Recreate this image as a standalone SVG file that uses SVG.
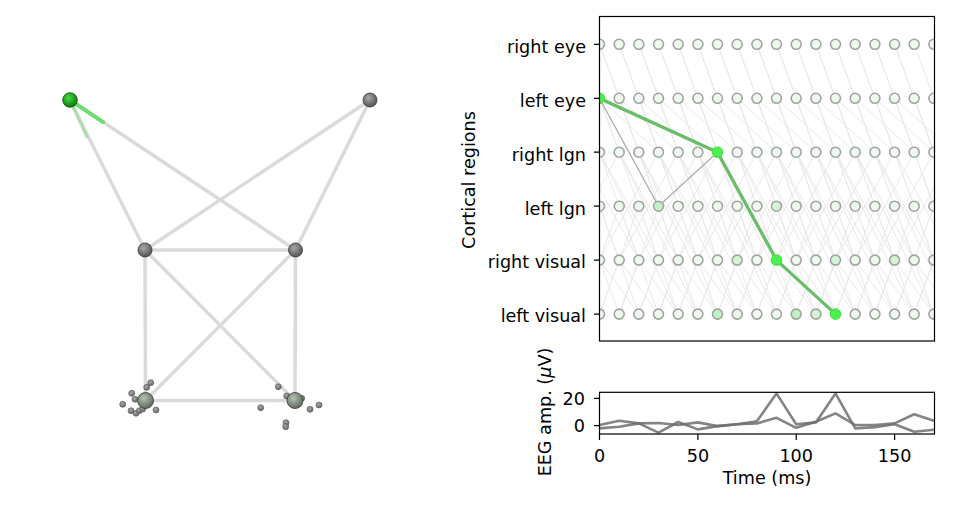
<svg xmlns="http://www.w3.org/2000/svg" xmlns:xlink="http://www.w3.org/1999/xlink" width="954" height="505" viewBox="0 0 954 505">
<style>
text{font-family:"DejaVu Sans","Liberation Sans",sans-serif;font-size:17.6px;fill:#000}
.edge{stroke:#d6d6d6;stroke-width:3.5;stroke-linecap:round;fill:none;opacity:.9}
.frame{fill:none;stroke:#000;stroke-width:1.2}
.tick{stroke:#000;stroke-width:1.2}
.nd{fill:#eefaee;stroke:#a3a3a3;stroke-width:1.6}
.lg{fill:#d2f5d2}
.mg{fill:#c2f2c2}
.hi{fill:#4cf04c;stroke:#44dd44;stroke-width:1}
.faint{fill:none;stroke:#c4c4c4;stroke-width:1;opacity:.38}
.dk{fill:none;stroke:#a9b0a9;stroke-width:1.3}
.eeg{fill:none;stroke:#6e6e6e;stroke-width:2.6;stroke-linejoin:round;opacity:.85}
.sm{fill:url(#gs);stroke:#555;stroke-width:.6}
</style>
<defs>
<radialGradient id="gg" cx=".4" cy=".35" r=".65"><stop offset="0" stop-color="#44dd44"/><stop offset="1" stop-color="#0c7a0c"/></radialGradient>
<radialGradient id="gr" cx=".4" cy=".35" r=".65"><stop offset="0" stop-color="#a8a8a8"/><stop offset="1" stop-color="#555"/></radialGradient>
<radialGradient id="gb" cx=".4" cy=".35" r=".65"><stop offset="0" stop-color="#b3c2b3"/><stop offset="1" stop-color="#5f6b5f"/></radialGradient>
<radialGradient id="gs" cx=".4" cy=".35" r=".65"><stop offset="0" stop-color="#aaa"/><stop offset="1" stop-color="#666"/></radialGradient>
<clipPath id="cpTop"><rect x="599.5" y="16.5" width="335" height="324.5"/></clipPath>
<clipPath id="cpEeg"><rect x="599.5" y="392.3" width="335" height="41.7"/></clipPath>
</defs>
<rect width="954" height="505" fill="#fff"/>

<!-- Left brain graph -->
<g id="connectors">
<path class="edge" d="M70 100L145 250M70 100L295.5 250M370 100L145 250M370 100L295.5 250M145 250L295.5 250M145 250L145.5 400.5M145 250L295 400.5M295.5 250L145.5 400.5M295.5 250L295 400.5M145.5 400.5L295 400.5"/>
<path d="M70 100L87 137" stroke="#a6dca6" stroke-width="3" stroke-linecap="round" opacity=".8"/>
<path d="M70 100L103 122" stroke="#5ede5e" stroke-width="4" stroke-linecap="round" opacity=".85"/>
</g>
<g id="small-spheres">
<circle class="sm" cx="150.7" cy="382.7" r="3"/><circle class="sm" cx="146.7" cy="387.3" r="3"/><circle class="sm" cx="131.7" cy="393.3" r="3"/><circle class="sm" cx="135" cy="399.3" r="3"/><circle class="sm" cx="122.7" cy="404.3" r="3"/><circle class="sm" cx="131" cy="410.7" r="3"/><circle class="sm" cx="136" cy="413.3" r="3"/><circle class="sm" cx="139.3" cy="410.7" r="3"/><circle class="sm" cx="142.7" cy="409" r="3"/><circle class="sm" cx="156" cy="410" r="3"/>
<circle class="sm" cx="278.3" cy="386.7" r="3"/><circle class="sm" cx="286.7" cy="396" r="3"/><circle class="sm" cx="301.7" cy="398.3" r="3"/><circle class="sm" cx="310" cy="409.3" r="3"/><circle class="sm" cx="319" cy="405" r="3"/><circle class="sm" cx="260.7" cy="407.7" r="3"/><circle class="sm" cx="286" cy="422.7" r="3"/><circle class="sm" cx="285.7" cy="426.7" r="3"/>
</g>
<g id="node-green"><circle cx="70" cy="100" r="7.3" fill="url(#gg)" stroke="#0a4a0a" stroke-width=".8"/></g>
<g id="node-top-right"><circle cx="370" cy="100" r="7" fill="url(#gr)" stroke="#333" stroke-width=".8"/></g>
<g id="node-mid-left"><circle cx="145" cy="250" r="7" fill="url(#gr)" stroke="#333" stroke-width=".8"/></g>
<g id="node-mid-right"><circle cx="295.5" cy="250" r="7" fill="url(#gr)" stroke="#333" stroke-width=".8"/></g>
<g id="node-bottom-left"><circle cx="145.5" cy="400.5" r="8" fill="url(#gb)" stroke="#333" stroke-width=".8"/></g>
<g id="node-bottom-right"><circle cx="295" cy="400.5" r="8" fill="url(#gb)" stroke="#333" stroke-width=".8"/></g>

<!-- Top right: cortical regions over time -->
<g id="grid-plot">
<g clip-path="url(#cpTop)">
<g transform="translate(599.5,44.3) scale(19.67,53.96)">
<path class="faint" vector-effect="non-scaling-stroke" d="M0 0L2 2M1 0L3 2M2 0L4 2M3 0L5 2M4 0L6 2M5 0L7 2M6 0L8 2M7 0L9 2M8 0L10 2M9 0L11 2M10 0L12 2M11 0L13 2M12 0L14 2M13 0L15 2M14 0L16 2M15 0L17 2M16 0L18 2
M0 0L3 3M1 0L4 3M2 0L5 3M3 0L6 3M4 0L7 3M5 0L8 3M6 0L9 3M7 0L10 3M8 0L11 3M9 0L12 3M10 0L13 3M11 0L14 3M12 0L15 3M13 0L16 3M14 0L17 3M15 0L18 3
M0 1L2 3M1 1L3 3M2 1L4 3M3 1L5 3M4 1L6 3M5 1L7 3M6 1L8 3M7 1L9 3M8 1L10 3M9 1L11 3M10 1L12 3M11 1L13 3M12 1L14 3M13 1L15 3M14 1L16 3M15 1L17 3M16 1L18 3
M0 1L3 2M1 1L4 2M2 1L5 2M3 1L6 2M4 1L7 2M5 1L8 2M6 1L9 2M7 1L10 2M8 1L11 2M9 1L12 2M10 1L13 2M11 1L14 2M12 1L15 2M13 1L16 2M14 1L17 2M15 1L18 2
M0 2L3 4M1 2L4 4M2 2L5 4M3 2L6 4M4 2L7 4M5 2L8 4M6 2L9 4M7 2L10 4M8 2L11 4M9 2L12 4M10 2L13 4M11 2L14 4M12 2L15 4M13 2L16 4M14 2L17 4M15 2L18 4
M0 3L2 5M1 3L3 5M2 3L4 5M3 3L5 5M4 3L6 5M5 3L7 5M6 3L8 5M7 3L9 5M8 3L10 5M9 3L11 5M10 3L12 5M11 3L13 5M12 3L14 5M13 3L15 5M14 3L16 5M15 3L17 5M16 3L18 5
M0 2L4 5M1 2L5 5M2 2L6 5M3 2L7 5M4 2L8 5M5 2L9 5M6 2L10 5M7 2L11 5M8 2L12 5M9 2L13 5M10 2L14 5M11 2L15 5M12 2L16 5M13 2L17 5M14 2L18 5
M0 5L2 3M1 5L3 3M2 5L4 3M3 5L5 3M4 5L6 3M5 5L7 3M6 5L8 3M7 5L9 3M8 5L10 3M9 5L11 3M10 5L12 3M11 5L13 3M12 5L14 3M13 5L15 3M14 5L16 3M15 5L17 3M16 5L18 3
M0 4L3 2M1 4L4 2M2 4L5 2M3 4L6 2M4 4L7 2M5 4L8 2M6 4L9 2M7 4L10 2M8 4L11 2M9 4L12 2M10 4L13 2M11 4L14 2M12 4L15 2M13 4L16 2M14 4L17 2M15 4L18 2
M0 5L1 4M1 5L2 4M2 5L3 4M3 5L4 4M4 5L5 4M5 5L6 4M6 5L7 4M7 5L8 4M8 5L9 4M9 5L10 4M10 5L11 4M11 5L12 4M12 5L13 4M13 5L14 4M14 5L15 4M15 5L16 4M16 5L17 4
M0 3L1 4M1 3L2 4M2 3L3 4M3 3L4 4M4 3L5 4M5 3L6 4M6 3L7 4M7 3L8 4M8 3L9 4M9 3L10 4M10 3L11 4M11 3L12 4M12 3L13 4M13 3L14 4M14 3L15 4M15 3L16 4M16 3L17 4
M0 4L2 5M1 4L3 5M2 4L4 5M3 4L5 5M4 4L6 5M5 4L7 5M6 4L8 5M7 4L9 5M8 4L10 5M9 4L11 5M10 4L12 5M11 4L13 5M12 4L14 5M13 4L15 5M14 4L16 5M15 4L17 5M16 4L18 5
M-2 0L0 2M-1 0L1 2M-2 1L0 3M-1 1L1 3M-2 3L0 5M-1 3L1 5M-1 5L1 3M-2 4L1 2M-1 2L2 4"/>
</g>
<path class="dk" d="M599.5 98.3L658.5 206.2L717.5 152.2"/>
<path d="M599.5 98.3L717.5 152.2L776.5 260.1L835.5 314.1" fill="none" stroke="#5cb85c" stroke-width="3.3" stroke-linejoin="round" opacity=".92"/>
<g id="row-right-eye">
<circle class="nd" cx="599.5" cy="44.3" r="5"/><circle class="nd" cx="619.2" cy="44.3" r="5"/><circle class="nd" cx="638.8" cy="44.3" r="5"/><circle class="nd" cx="658.5" cy="44.3" r="5"/><circle class="nd" cx="678.2" cy="44.3" r="5"/><circle class="nd" cx="697.9" cy="44.3" r="5"/><circle class="nd" cx="717.5" cy="44.3" r="5"/><circle class="nd" cx="737.2" cy="44.3" r="5"/><circle class="nd" cx="756.9" cy="44.3" r="5"/><circle class="nd" cx="776.5" cy="44.3" r="5"/><circle class="nd" cx="796.2" cy="44.3" r="5"/><circle class="nd" cx="815.9" cy="44.3" r="5"/><circle class="nd" cx="835.5" cy="44.3" r="5"/><circle class="nd" cx="855.2" cy="44.3" r="5"/><circle class="nd" cx="874.9" cy="44.3" r="5"/><circle class="nd" cx="894.6" cy="44.3" r="5"/><circle class="nd" cx="914.2" cy="44.3" r="5"/><circle class="nd" cx="933.9" cy="44.3" r="5"/>
</g>
<g id="row-left-eye">
<circle class="nd hi" cx="599.5" cy="98.3" r="5.3"/><circle class="nd" cx="619.2" cy="98.3" r="5"/><circle class="nd" cx="638.8" cy="98.3" r="5"/><circle class="nd" cx="658.5" cy="98.3" r="5"/><circle class="nd" cx="678.2" cy="98.3" r="5"/><circle class="nd" cx="697.9" cy="98.3" r="5"/><circle class="nd" cx="717.5" cy="98.3" r="5"/><circle class="nd" cx="737.2" cy="98.3" r="5"/><circle class="nd" cx="756.9" cy="98.3" r="5"/><circle class="nd" cx="776.5" cy="98.3" r="5"/><circle class="nd" cx="796.2" cy="98.3" r="5"/><circle class="nd" cx="815.9" cy="98.3" r="5"/><circle class="nd" cx="835.5" cy="98.3" r="5"/><circle class="nd" cx="855.2" cy="98.3" r="5"/><circle class="nd" cx="874.9" cy="98.3" r="5"/><circle class="nd" cx="894.6" cy="98.3" r="5"/><circle class="nd" cx="914.2" cy="98.3" r="5"/><circle class="nd" cx="933.9" cy="98.3" r="5"/>
</g>
<g id="row-right-lgn">
<circle class="nd" cx="599.5" cy="152.2" r="5"/><circle class="nd" cx="619.2" cy="152.2" r="5"/><circle class="nd" cx="638.8" cy="152.2" r="5"/><circle class="nd" cx="658.5" cy="152.2" r="5"/><circle class="nd" cx="678.2" cy="152.2" r="5"/><circle class="nd" cx="697.9" cy="152.2" r="5"/><circle class="nd hi" cx="717.5" cy="152.2" r="5.3"/><circle class="nd" cx="737.2" cy="152.2" r="5"/><circle class="nd" cx="756.9" cy="152.2" r="5"/><circle class="nd" cx="776.5" cy="152.2" r="5"/><circle class="nd" cx="796.2" cy="152.2" r="5"/><circle class="nd" cx="815.9" cy="152.2" r="5"/><circle class="nd" cx="835.5" cy="152.2" r="5"/><circle class="nd" cx="855.2" cy="152.2" r="5"/><circle class="nd" cx="874.9" cy="152.2" r="5"/><circle class="nd" cx="894.6" cy="152.2" r="5"/><circle class="nd" cx="914.2" cy="152.2" r="5"/><circle class="nd" cx="933.9" cy="152.2" r="5"/>
</g>
<g id="row-left-lgn">
<circle class="nd" cx="599.5" cy="206.2" r="5"/><circle class="nd" cx="619.2" cy="206.2" r="5"/><circle class="nd" cx="638.8" cy="206.2" r="5"/><circle class="nd mg" cx="658.5" cy="206.2" r="5"/><circle class="nd" cx="678.2" cy="206.2" r="5"/><circle class="nd" cx="697.9" cy="206.2" r="5"/><circle class="nd" cx="717.5" cy="206.2" r="5"/><circle class="nd" cx="737.2" cy="206.2" r="5"/><circle class="nd" cx="756.9" cy="206.2" r="5"/><circle class="nd lg" cx="776.5" cy="206.2" r="5"/><circle class="nd" cx="796.2" cy="206.2" r="5"/><circle class="nd" cx="815.9" cy="206.2" r="5"/><circle class="nd" cx="835.5" cy="206.2" r="5"/><circle class="nd" cx="855.2" cy="206.2" r="5"/><circle class="nd" cx="874.9" cy="206.2" r="5"/><circle class="nd" cx="894.6" cy="206.2" r="5"/><circle class="nd" cx="914.2" cy="206.2" r="5"/><circle class="nd" cx="933.9" cy="206.2" r="5"/>
</g>
<g id="row-right-visual">
<circle class="nd" cx="599.5" cy="260.1" r="5"/><circle class="nd" cx="619.2" cy="260.1" r="5"/><circle class="nd" cx="638.8" cy="260.1" r="5"/><circle class="nd" cx="658.5" cy="260.1" r="5"/><circle class="nd" cx="678.2" cy="260.1" r="5"/><circle class="nd" cx="697.9" cy="260.1" r="5"/><circle class="nd" cx="717.5" cy="260.1" r="5"/><circle class="nd lg" cx="737.2" cy="260.1" r="5"/><circle class="nd" cx="756.9" cy="260.1" r="5"/><circle class="nd hi" cx="776.5" cy="260.1" r="5.3"/><circle class="nd" cx="796.2" cy="260.1" r="5"/><circle class="nd" cx="815.9" cy="260.1" r="5"/><circle class="nd lg" cx="835.5" cy="260.1" r="5"/><circle class="nd" cx="855.2" cy="260.1" r="5"/><circle class="nd" cx="874.9" cy="260.1" r="5"/><circle class="nd lg" cx="894.6" cy="260.1" r="5"/><circle class="nd" cx="914.2" cy="260.1" r="5"/><circle class="nd" cx="933.9" cy="260.1" r="5"/>
</g>
<g id="row-left-visual">
<circle class="nd" cx="599.5" cy="314.1" r="5"/><circle class="nd" cx="619.2" cy="314.1" r="5"/><circle class="nd" cx="638.8" cy="314.1" r="5"/><circle class="nd" cx="658.5" cy="314.1" r="5"/><circle class="nd" cx="678.2" cy="314.1" r="5"/><circle class="nd" cx="697.9" cy="314.1" r="5"/><circle class="nd mg" cx="717.5" cy="314.1" r="5"/><circle class="nd" cx="737.2" cy="314.1" r="5"/><circle class="nd" cx="756.9" cy="314.1" r="5"/><circle class="nd" cx="776.5" cy="314.1" r="5"/><circle class="nd mg" cx="796.2" cy="314.1" r="5"/><circle class="nd lg" cx="815.9" cy="314.1" r="5"/><circle class="nd hi" cx="835.5" cy="314.1" r="5.3"/><circle class="nd" cx="855.2" cy="314.1" r="5"/><circle class="nd" cx="874.9" cy="314.1" r="5"/><circle class="nd" cx="894.6" cy="314.1" r="5"/><circle class="nd" cx="914.2" cy="314.1" r="5"/><circle class="nd" cx="933.9" cy="314.1" r="5"/>
</g>
</g>
<rect class="frame" x="599.5" y="16.5" width="335" height="324.5"/>
<path class="tick" d="M594 44.3H599.5M594 98.3H599.5M594 152.2H599.5M594 206.2H599.5M594 260.1H599.5M594 314.1H599.5"/>
<g text-anchor="end">
<text x="586" y="52.6">right eye</text>
<text x="586" y="106.6">left eye</text>
<text x="586" y="160.5">right lgn</text>
<text x="586" y="214.5">left lgn</text>
<text x="586" y="268.4">right visual</text>
<text x="586" y="322.4">left visual</text>
</g>
<text transform="translate(475,180) rotate(-90)" text-anchor="middle">Cortical regions</text>
</g>

<!-- EEG plot -->
<g id="eeg-plot">
<g clip-path="url(#cpEeg)">
<polyline class="eeg" points="599.5,425.0 619.2,420.8 638.8,423.4 658.5,423.0 678.2,425.0 697.9,422.4 717.5,426.1 737.2,424.3 756.9,421.3 776.5,393.4 796.2,424.3 815.9,422.4 835.5,393.4 855.2,428.4 874.9,427.1 894.6,424.3 914.2,431.7 933.9,429.8 953.6,429"/>
<polyline class="eeg" points="599.5,428.4 619.2,426.7 638.8,423.4 658.5,432.6 678.2,422.0 697.9,429.4 717.5,426.1 737.2,424.3 756.9,423.4 776.5,417.8 796.2,427.8 815.9,421.7 835.5,413.4 855.2,425.0 874.9,425.0 894.6,423.4 914.2,414.3 933.9,420.8 953.6,422"/>
</g>
<rect class="frame" x="599.5" y="392.3" width="335" height="41.7"/>
<path class="tick" d="M594 398.3H599.5M594 425.7H599.5M599.5 434V440M697.9 434V440M796.2 434V440M894.6 434V440"/>
<g text-anchor="end">
<text x="585" y="404.5">20</text>
<text x="585" y="431.9">0</text>
</g>
<g text-anchor="middle">
<text x="599.5" y="462">0</text>
<text x="697.9" y="462">50</text>
<text x="796.2" y="462">100</text>
<text x="894.6" y="462">150</text>
<text x="767" y="484">Time (ms)</text>
</g>
<text transform="translate(551,412) rotate(-90)" text-anchor="middle">EEG amp. (<tspan font-style="italic">μ</tspan>V)</text>
</g>
</svg>
